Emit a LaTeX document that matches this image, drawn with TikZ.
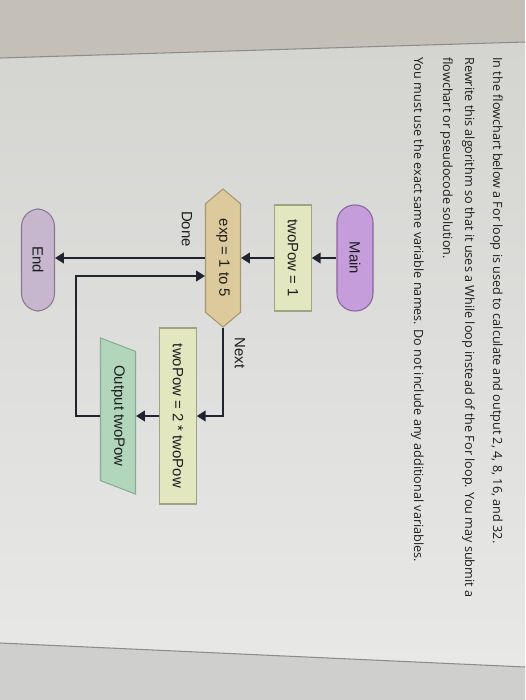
\documentclass[tikz,border=0pt]{standalone}
\usepackage{fontspec}
\setmainfont{Open Sans}
\newfontfamily\chartfont{Liberation Sans}
\usetikzlibrary{arrows.meta,shapes.symbols,shapes.geometric,positioning}

\definecolor{bezel}{HTML}{C4C0B8}
\definecolor{screentop}{HTML}{D4D4D1}
\definecolor{screenbot}{HTML}{E8E8E7}
\definecolor{deskgray}{HTML}{CFCFCD}
\definecolor{inktext}{HTML}{1E1E1E}
\definecolor{wire}{HTML}{1F2430}
\definecolor{mainfill}{HTML}{C59DDA}
\definecolor{mainline}{HTML}{8A649E}
\definecolor{endfill}{HTML}{C6B6CE}
\definecolor{endline}{HTML}{8A7A90}
\definecolor{procfill}{HTML}{E2E7BF}
\definecolor{procline}{HTML}{9EA384}
\definecolor{loopfill}{HTML}{DDCA9C}
\definecolor{loopline}{HTML}{A89670}
\definecolor{iofill}{HTML}{B2D6BC}
\definecolor{ioline}{HTML}{86AE94}

\begin{document}
\begin{tikzpicture}[x=0.02cm,y=-0.02cm,
    chart text/.style={rotate=-90,text=inktext,
        font=\chartfont\fontsize{8.5}{10}\selectfont},
    prompt line/.style={rotate=-90,anchor=base west,inner sep=0pt,text=inktext,
        font=\fontsize{7.2}{8.5}\selectfont},
    terminal/.style={chart text,rectangle,rounded corners=0.35cm,
        minimum width=2.12cm,minimum height=0.72cm,line width=0.6pt},
    process/.style={chart text,rectangle,draw=procline,fill=procfill,
        minimum height=0.73cm,line width=0.6pt},
    loop head/.style={chart text,signal,signal to=east and west,
        signal pointer angle=100,draw=loopline,fill=loopfill,
        minimum width=2.76cm,minimum height=0.7cm,line width=0.6pt},
    output/.style={chart text,trapezium,trapezium left angle=65,
        trapezium right angle=115,trapezium stretches=true,
        draw=ioline,fill=iofill,minimum width=3.14cm,minimum height=0.7cm,
        line width=0.6pt},
    flow/.style={draw=wire,line width=1.1pt,
        -{Triangle[width=6pt,length=5pt]}}
]
    \useasboundingbox (0,0) rectangle (525,700);
    % screen photo background
    \fill[bezel] (0,0) rectangle (525,700);
    \shade[top color=screentop,bottom color=screenbot]
        (0,58) -- (525,42) -- (525,667) -- (0,643) -- cycle;
    \fill[deskgray] (0,643) -- (525,667) -- (525,700) -- (0,700) -- cycle;
    \draw[black!45,line width=0.6pt] (0,58) -- (525,42);
    \draw[black!45,line width=0.6pt] (0,643) -- (525,667);

    % question text
    \node[prompt line] (q1) at (493,57)
        {In the flowchart below a For loop is used to calculate and output 2, 4, 8, 16, and 32.};
    \node[prompt line] (q2) at (465,57)
        {Rewrite this algorithm so that it uses a While loop instead of the For loop. You may submit a};
    \node[prompt line] (q3) at (443,57) {flowchart or pseudocode solution.};
    \node[prompt line] (q4) at (414,57)
        {You must use the exact same variable names. Do not include any additional variables.};

    % flowchart
    \node[terminal,draw=mainline,fill=mainfill] (main) at (355,258) {Main};
    \node[process,minimum width=2.12cm] (init) at (293,258) {twoPow = 1};
    \node[loop head] (exp) at (223,258) {exp = 1 to 5};
    \node[terminal,draw=endline,fill=endfill,minimum width=2.04cm,
        minimum height=0.66cm] (end) at (38,260) {End};
    \node[process,minimum width=3.52cm] (double) at (178,416) {twoPow = 2 * twoPow};
    \node[output] (out) at (118,416) {Output twoPow};
    \node[chart text] (done) at (187,229) {Done};
    \node[chart text] (next) at (240,353) {Next};

    \coordinate (loopin) at ([yshift=-0.36cm]exp.south);

    \draw[flow] (main) -- (init);
    \draw[flow] (init) -- (exp);
    \draw[flow] (exp.south) -- (exp.south -| end.north);
    \draw[flow] (exp.east) |- (double.north);
    \draw[flow] (double) -- (out);
    \draw[flow] (out.south) -- ++(-24,0) |- (loopin);
\end{tikzpicture}
\end{document}
